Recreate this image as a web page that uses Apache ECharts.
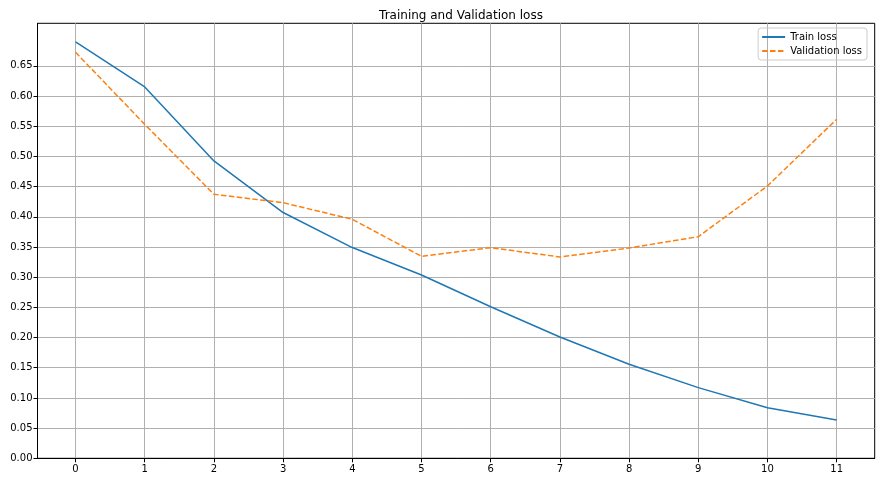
<!DOCTYPE html>
<html>
<head>
<meta charset="utf-8">
<script src="https://cdn.jsdelivr.net/npm/echarts@6/dist/echarts.min.js"></script>
<style>html,body{margin:0;padding:0;background:#fff}#c{width:880px;height:482px}</style>
</head>
<body>
<div id="c"></div>
<script>
const epochs = [0,1,2,3,4,5,6,7,8,9,10,11];
const trainLoss = [0.6895,0.615,0.4924,0.407,0.349,0.3036,0.251,0.2009,0.1557,0.117,0.0838,0.0634];
const valLoss = [0.6724,0.553,0.4372,0.4233,0.3958,0.3345,0.3488,0.3334,0.3483,0.367,0.451,0.5614];
const yTicks = [0,0.05,0.1,0.15,0.2,0.25,0.3,0.35,0.4,0.45,0.5,0.55,0.6,0.65];
const xTicks = epochs;

const font = 'DejaVu Sans';
const chart = echarts.init(document.getElementById('c'), null, {renderer:'canvas'});
chart.setOption({
  animation:false,
  backgroundColor:'#fff',
  title:{text:'Training and Validation loss', left:456, top:5, textAlign:'center',
    textStyle:{fontFamily:font,fontSize:12,fontWeight:'normal',color:'#000'}},
  grid:{left:37.5,right:5.3,top:23.3,bottom:23.7,show:true,borderColor:'#000',borderWidth:1,containLabel:false},
  legend:{orient:'vertical',right:13,top:28,borderColor:'#ccc',borderWidth:1,borderRadius:3,
    padding:[4,5,4,3],itemGap:4,itemWidth:23,itemHeight:10,
    itemStyle:{opacity:0},
    textStyle:{fontFamily:font,fontSize:10,color:'#000'},
    data:[{name:'Train loss'},{name:'Validation loss'}]},
  xAxis:{type:'value',min:-0.55,max:11.55,
    axisLine:{show:true,onZero:false,lineStyle:{color:'#000'}},
    axisTick:{show:true,length:4,customValues:xTicks,lineStyle:{color:'#000'}},
    axisLabel:{customValues:xTicks,fontFamily:font,fontSize:10,color:'#000',margin:6},
    splitLine:{show:true,lineStyle:{color:'#b0b0b0',width:1}}},
  yAxis:{type:'value',min:0,max:0.7204,
    axisLine:{show:true,onZero:false,lineStyle:{color:'#000'}},
    axisTick:{show:true,length:4,customValues:yTicks,lineStyle:{color:'#000'}},
    axisLabel:{customValues:yTicks,fontFamily:font,fontSize:10,color:'#000',margin:5,
      formatter:v=>v.toFixed(2)},
    splitLine:{show:true,lineStyle:{color:'#b0b0b0',width:1}}},
  series:[
    {name:'Train loss',type:'line',symbol:'none',color:'#1f77b4',
      lineStyle:{width:1.5,color:'#1f77b4'},
      data:epochs.map((e,i)=>[e,trainLoss[i]])},
    {name:'Validation loss',type:'line',symbol:'none',color:'#ff7f0e',
      lineStyle:{width:1.5,color:'#ff7f0e',type:[5.5,2.4]},
      data:epochs.map((e,i)=>[e,valLoss[i]])}
  ]
});
</script>
</body>
</html>
